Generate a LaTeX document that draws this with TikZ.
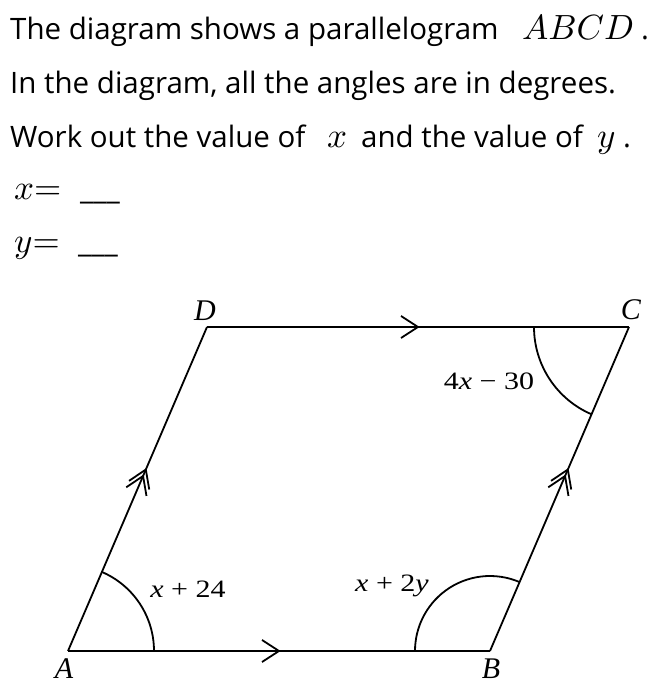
\documentclass[tikz,border=0pt]{standalone}
\usepackage{fontspec}
\setmainfont{Open Sans}
\newfontfamily\lblfont{Liberation Serif}
\usetikzlibrary{decorations.markings}
\newcommand{\bigmath}[1]{\scalebox{3.5}{\fontsize{10}{12}\selectfont$#1$}}
\newcommand{\wide}[1]{\scalebox{1.2}[1]{#1}}
\tikzset{
  txt/.style={anchor=base west, inner sep=0pt, font=\fontsize{29.5}{36}\selectfont},
  mth/.style={anchor=base west, inner sep=0pt, font=\fontsize{29.5}{36}\selectfont},
  side/.style={line width=1.8pt},
  anglearc/.style={line width=1.8pt},
  lbl/.style={inner sep=0pt, font=\lblfont\fontsize{30}{32}\selectfont},
  expr/.style={inner sep=0pt, anchor=base, font=\lblfont\fontsize{25}{30}\selectfont},
  onechev/.style={postaction={decorate, decoration={markings,
     mark=at position #1 with {\draw[line width=1.8pt] (-17pt,-11pt) -- (0pt,0pt) -- (-17pt,11pt);}}}},
  twochev/.style={postaction={decorate, decoration={markings,
     mark=at position #1 with {\draw[line width=1.8pt] (-17pt,-11pt) -- (0pt,0pt) -- (-17pt,11pt);
                               \draw[line width=1.8pt] (-24pt,-11pt) -- (-7pt,0pt) -- (-24pt,11pt);}}}},
}
\begin{document}
\begin{tikzpicture}[x=1pt,y=1pt]
\useasboundingbox (0,0) rectangle (670,685);
% header text
\node[txt] (l1) at (10,645) {The diagram shows a parallelogram};
\node[mth] (l1m) at (522,645) {\bigmath{ABCD}};
\node[txt] (l1p) at (641,645) {.};
\node[txt] (l2) at (10,591) {In the diagram, all the angles are in degrees.};
\node[txt] (l3a) at (10,537) {Work out the value of};
\node[mth] (l3x) at (327,537) {\bigmath{x}};
\node[txt] (l3b) at (361,537) {and the value of};
\node[mth] (l3y) at (597,537) {\bigmath{y}};
\node[txt] (l3p) at (623,537) {.};
\node[mth] (ax) at (14,485) {\bigmath{x{=}}};
\node[txt] (bx) at (80,485) {\_\_\_};
\node[mth] (ay) at (14,432) {\bigmath{y{=}}};
\node[txt] (by) at (78,432) {\_\_\_};
% parallelogram
\coordinate (A) at (68,34);
\coordinate (B) at (490,34);
\coordinate (C) at (629,358);
\coordinate (D) at (207,358);
\draw[side, onechev=0.5] (A) -- (B);
\draw[side, onechev=0.5] (D) -- (C);
\draw[side, twochev=0.56] (A) -- (D);
\draw[side, twochev=0.56] (B) -- (C);
% angle arcs
\draw[anglearc] ([shift={(0:86)}]A) arc[start angle=0, end angle=66.78, radius=86];
\draw[anglearc] ([shift={(66.78:75)}]B) arc[start angle=66.78, end angle=180, radius=75];
\draw[anglearc] ([shift={(180:95)}]C) arc[start angle=180, end angle=246.78, radius=95];
% labels
\node[lbl] (lA) at (64,16) {\textit{A}};
\node[lbl] (lB) at (491,16) {\textit{B}};
\node[lbl] (lC) at (631,375) {\textit{C}};
\node[lbl] (lD) at (205,374) {\textit{D}};
\node[expr] (eA) at (188,87.5) {\wide{\textit{x} + 24}};
\node[expr] (eB) at (392,93) {\wide{\textit{x} + 2\textit{y}}};
\node[expr] (eC) at (489,295.5) {\wide{4\textit{x} − 30}};
\end{tikzpicture}
\end{document}
